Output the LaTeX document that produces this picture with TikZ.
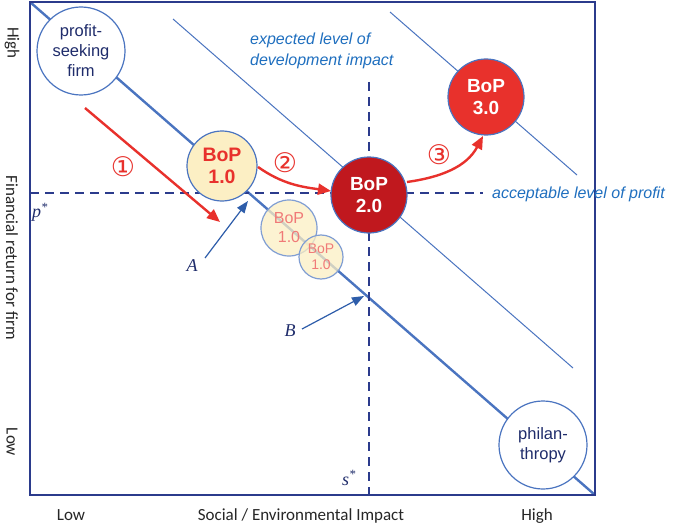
\documentclass[tikz,border=0pt]{standalone}
\usepackage{fontspec}
\setmainfont{Liberation Sans}
\newfontfamily\calfont{Carlito}
\newfontfamily\serfont{Liberation Serif}
\newfontfamily\symfont{DejaVu Sans}
\usetikzlibrary{arrows.meta}
\definecolor{navy}{HTML}{2B3B8C}
\definecolor{lblue}{HTML}{4A74C0}
\definecolor{tblue}{HTML}{1F6FBF}
\definecolor{ink}{HTML}{1F2C6B}
\definecolor{bred}{HTML}{E8312C}
\definecolor{dred}{HTML}{C0181E}
\definecolor{cream}{HTML}{FCEFC4}
\definecolor{pinky}{HTML}{F07A78}
\definecolor{arrowblue}{HTML}{2E5DAA}
\tikzset{
  axislab/.style={font=\calfont\fontsize{17}{17}\selectfont, text=black!85, inner sep=0},
  whitecirc/.style={circle, draw=lblue, line width=1.2pt, fill=white, inner sep=0, align=center, text=ink, font=\fontsize{16.5}{20}\selectfont},
  bopcirc/.style={circle, draw=lblue, line width=1.2pt, inner sep=0, align=center, font=\bfseries\fontsize{19.5}{22}\selectfont},
  fadecirc/.style={circle, draw=lblue!70, line width=1.2pt, fill=cream, fill opacity=0.75, text opacity=1, inner sep=0, align=center, text=pinky},
  itlab/.style={font=\itshape\fontsize{16}{21}\selectfont, text=tblue, inner sep=0},
  serlab/.style={font=\serfont\itshape\fontsize{18}{18}\selectfont, text=ink, inner sep=0},
  redarrow/.style={draw=bred, line width=2.4pt, -{Triangle[length=13pt,width=11pt]}},
  bluearrow/.style={draw=arrowblue, line width=1.2pt, -{Triangle[length=12pt,width=9pt]}},
  stepnum/.style={font=\symfont\fontsize{27}{27}\selectfont, text=bred, inner sep=0},
  dashline/.style={draw=navy, line width=2.4pt, dash pattern=on 9pt off 6pt}
}
\begin{document}
\begin{tikzpicture}[x=1pt,y=-1pt]
\useasboundingbox (0,0) rectangle (685,524);
\fill[white] (0,0) rectangle (685,524);

% iso-lines
\coordinate (d0) at (30,2);
\coordinate (d1) at (595,495);
\coordinate (t1a) at (173,19);
\coordinate (t1b) at (573,368);
\coordinate (t2a) at (390,12);
\coordinate (t2b) at (577,175);
\draw[lblue, line width=1pt] (t1a) -- (t1b);
\draw[lblue, line width=1pt] (t2a) -- (t2b);
\draw[lblue, line width=2.4pt] (d0) -- (d1);

% dashed thresholds
\coordinate (h0) at (30,193);
\coordinate (h1) at (483,193);
\coordinate (v0) at (369,82);
\coordinate (v1) at (369,495);
\draw[dashline] (h0) -- (h1);
\draw[dashline] (v0) -- (v1);

% frame
\draw[navy, line width=2.2pt] (30,2) rectangle (595,495);

% circles
\node[whitecirc, minimum size=88pt] (firm) at (81,51) {profit-\\seeking\\firm};
\node[whitecirc, minimum size=88pt] (phil) at (543,445) {philan-\\thropy};
\node[fadecirc, minimum size=56pt, font=\fontsize{16}{19}\selectfont] (f1) at (289,228) {BoP\\1.0};
\node[fadecirc, minimum size=44pt, font=\fontsize{14}{16}\selectfont] (f2) at (321,257) {BoP\\1.0};
\node[bopcirc, minimum size=70pt, fill=cream, text=bred] (b1) at (222,166) {BoP\\1.0};
\node[bopcirc, minimum size=76pt, fill=dred, text=white, font=\bfseries\fontsize{19}{22}\selectfont] (b2) at (369,195) {BoP\\2.0};
\node[bopcirc, minimum size=76pt, fill=bred, text=white, font=\bfseries\fontsize{19}{22}\selectfont] (b3) at (486,97) {BoP\\3.0};

% red path arrows
\coordinate (r1a) at (85,108);
\coordinate (r1b) at (220,222);
\draw[redarrow] (r1a) -- (r1b);
\coordinate (r2a) at (258,167);
\coordinate (r2b) at (331,191);
\draw[redarrow] (r2a) to[out=-35,in=172] (r2b);
\coordinate (r3a) at (407,182);
\coordinate (r3b) at (483,136);
\draw[redarrow] (r3a) to[out=8,in=-118] (r3b);
\node[stepnum] (n1) at (123,167) {①};
\node[stepnum] (n2) at (285,163) {②};
\node[stepnum] (n3) at (439,155) {③};

% A and B
\node[serlab] (A) at (192,266) {A};
\node[serlab] (B) at (290,331) {B};
\coordinate (Atip) at (248,201);
\coordinate (Btip) at (364,296);
\coordinate (Afrom) at (205,258);
\coordinate (Bfrom) at (302,329);
\draw[bluearrow] (Afrom) -- (Atip);
\draw[bluearrow] (Bfrom) -- (Btip);

% p*, s*
\node[serlab, anchor=west] (pstar) at (32,212) {p\textsuperscript{*}};
\node[serlab, anchor=east] (sstar) at (356,478) {s\textsuperscript{*}};

% italic labels
\node[itlab, align=left, anchor=north west] (exp) at (250,33) {expected level of\\development impact};
\node[itlab, anchor=west] (acc) at (492,194) {acceptable level of profit};

% axis labels
\node[axislab, rotate=-90] (fin) at (12,258) {Financial return for firm};
\node[axislab, rotate=-90] (yhigh) at (12,43) {High};
\node[axislab, rotate=-90] (ylow) at (12,442) {Low};
\node[axislab, anchor=base] (xlow) at (71,520) {Low};
\node[axislab, anchor=base] (xmid) at (301,520) {Social / Environmental Impact};
\node[axislab, anchor=base] (xhigh) at (537,520) {High};
\end{tikzpicture}
\end{document}
